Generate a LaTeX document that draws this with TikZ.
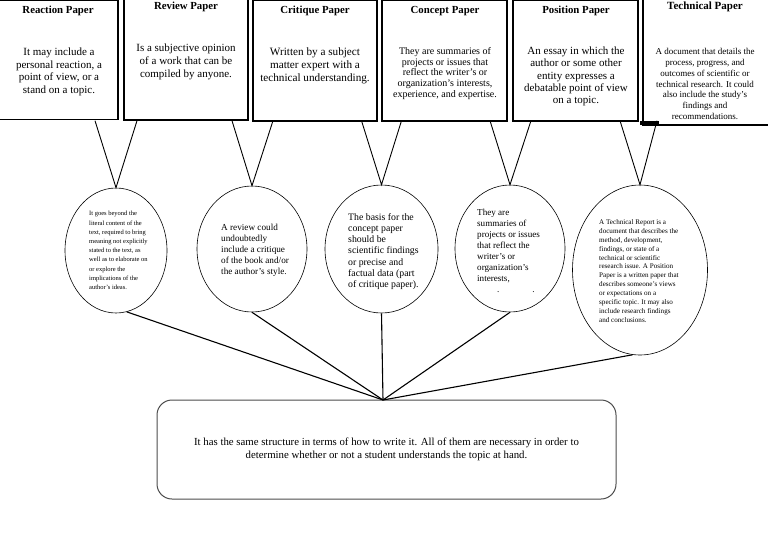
\documentclass[tikz,border=0pt]{standalone}
\usepackage{fontspec}
\setmainfont{Liberation Serif}
\usetikzlibrary{shapes.geometric, calc}
\tikzstyle{paper} = [rectangle, draw=black, line width=1.2pt, inner sep=0pt]
\tikzstyle{title} = [font=\fontsize{10.8}{13}\selectfont\bfseries, inner sep=0pt, text centered]
\tikzstyle{blurb} = [align=center, inner sep=0pt]
\tikzstyle{bubble} = [ellipse, draw=black, line width=0.6pt, inner sep=0pt]
\tikzstyle{note} = [align=left, inner sep=0pt, anchor=west]
\tikzstyle{funnel} = [line width=0.9pt]
\tikzstyle{spoke} = [line width=1.1pt]

\begin{document}
\begin{tikzpicture}[x=1pt, y=-1pt]
    \useasboundingbox (0,0) rectangle (768,544);

    % the six kinds of paper
    \node (reaction) [paper, minimum width=126pt, minimum height=119pt] at (55,60) {};
    \node (review) [paper, minimum width=124pt, minimum height=125pt] at (186,57.5) {};
    \node (critique) [paper, minimum width=124pt, minimum height=120.4pt] at (315,60.8) {};
    \node (concept) [paper, minimum width=125pt, minimum height=120.4pt] at (444.5,60.8) {};
    \node (position) [paper, minimum width=125pt, minimum height=120.4pt] at (575.5,60.8) {};
    \node (technical) [paper, minimum width=127pt, minimum height=130pt] at (706.5,60) {};
    \fill (640,121) rectangle (659,124.5);

    \node (reactiontitle) [title] at (58,11) {Reaction Paper};
    \node (reviewtitle) [title] at (186,7) {Review Paper};
    \node (critiquetitle) [title] at (315,11) {Critique Paper};
    \node (concepttitle) [title] at (445,11) {Concept Paper};
    \node (positiontitle) [title] at (576,11) {Position Paper};
    \node (technicaltitle) [title, font=\fontsize{11}{13}\selectfont\bfseries] at (705,7) {Technical Paper};

    \node (reactiontext) [blurb, font=\fontsize{11}{12.7}\selectfont] at (59,72)
        {It may include a\\personal reaction, a\\point of view, or a\\stand on a topic.};
    \node (reviewtext) [blurb, font=\fontsize{11}{13}\selectfont] at (186,62)
        {Is a subjective opinion\\of a work that can be\\compiled by anyone.};
    \node (critiquetext) [blurb, font=\fontsize{11.2}{13}\selectfont] at (315,66)
        {Written by a subject\\matter expert with a\\technical understanding.};
    \node (concepttext) [blurb, font=\fontsize{10}{10.8}\selectfont] at (445,73.5)
        {They are summaries of\\projects or issues that\\reflect the writer's or\\organization's interests,\\experience, and expertise.};
    \node (positiontext) [blurb, font=\fontsize{11}{12.2}\selectfont] at (576,76.5)
        {An essay in which the\\author or some other\\entity expresses a\\debatable point of view\\on a topic.};
    \node (technicaltext) [blurb, font=\fontsize{9}{10.8}\selectfont] at (705,84)
        {A document that details the\\process, progress, and\\outcomes of scientific or\\technical research. It could\\also include the study's\\findings and\\recommendations.};

    % the bubbles
    \node (e1) [bubble, minimum width=102pt, minimum height=125pt] at (116,250.5) {};
    \node (e2) [bubble, minimum width=110pt, minimum height=126pt] at (252,249) {};
    \node (e3) [bubble, minimum width=113pt, minimum height=128pt] at (381.5,249) {};
    \node (e4) [bubble, minimum width=110pt, minimum height=127pt] at (510,248.5) {};
    \node (e5) [bubble, minimum width=135pt, minimum height=170pt] at (640,270) {};

    \node (n1) [note, font=\fontsize{6.5}{9.2}\selectfont] at (89,250.5)
        {It goes beyond the\\literal content of the\\text, required to bring\\meaning not explicitly\\stated to the text, as\\well as to elaborate on\\or explore the\\implications of the\\author's ideas.};
    \node (n2) [note, font=\fontsize{9.2}{11}\selectfont] at (221,250.5)
        {A review could\\undoubtedly\\include a critique\\of the book and/or\\the author's style.};
    \node (n3) [note, font=\fontsize{9.8}{11.3}\selectfont] at (348,251.5)
        {The basis for the\\concept paper\\should be\\scientific findings\\or precise and\\factual data (part\\of critique paper).};
    \node (n4) [note, font=\fontsize{9.1}{11}\selectfont] at (477,251)
        {They are\\summaries of\\projects or issues\\that reflect the\\writer's or\\organization's\\interests,\\\hspace*{20pt}.\hspace{33pt}.};
    \node (n5) [note, font=\fontsize{7.1}{8.9}\selectfont] at (599,271)
        {A Technical Report is a\\document that describes the\\method, development,\\findings, or state of a\\technical or scientific\\research issue. A Position\\Paper is a written paper that\\describes someone's views\\or expectations on a\\specific topic. It may also\\include research findings\\and conclusions.};

    % pointers from the papers
    \draw [funnel] ($(e1.north)+(-21,-67)$) -- (e1.north) -- ($(e1.north)+(21,-67)$);
    \draw [funnel] ($(e2.north)+(-20,-65)$) -- (e2.north) -- ($(e2.north)+(21,-65)$);
    \draw [funnel] ($(e3.north)+(-20,-64)$) -- (e3.north) -- ($(e3.north)+(20,-64)$);
    \draw [funnel] ($(e4.north)+(-20,-64)$) -- (e4.north) -- ($(e4.north)+(21,-64)$);
    \draw [funnel] ($(e5.north)+(-20,-64)$) -- (e5.north) -- ($(e5.north)+(17,-64)$);

    % summary
    \node (summary) [rounded corners=15pt, draw=black!70, line width=1pt, minimum width=459pt, minimum height=99pt, align=center, font=\fontsize{10.8}{13.3}\selectfont] at (386.5,449.5)
        {It has the same structure in terms of how to write it. All of them are necessary in order to\\determine whether or not a student understands the topic at hand.};
    \coordinate (hub) at (383,400);

    \draw [spoke] (e1.-80) -- (hub);
    \draw [spoke] (e2.south) -- (hub);
    \draw [spoke] (e3.south) -- (hub);
    \draw [spoke] (e4.south) -- (hub);
    \draw [spoke] (e5.-95) -- (hub);
\end{tikzpicture}
\end{document}
